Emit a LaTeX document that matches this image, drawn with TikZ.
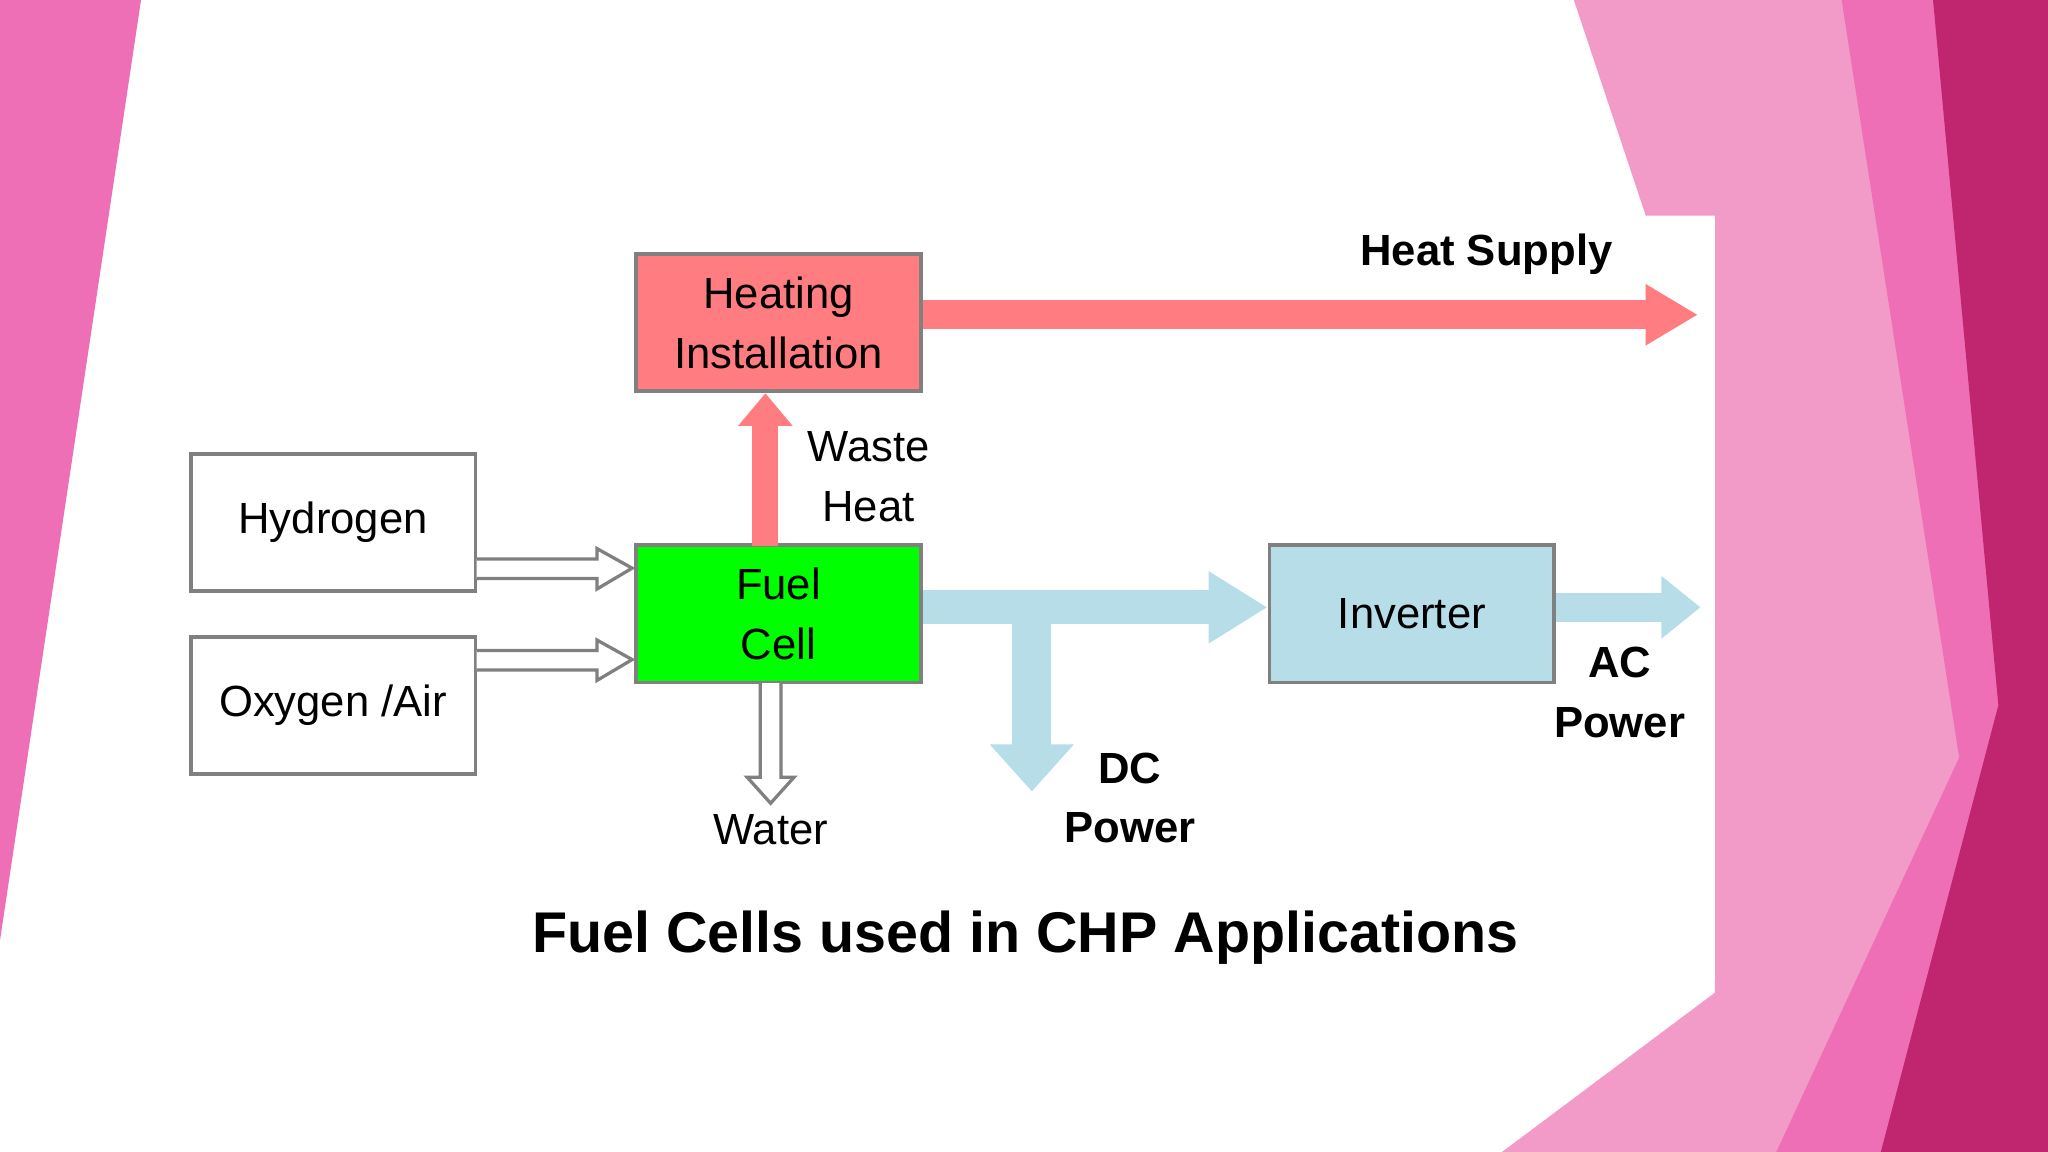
\documentclass[tikz,border=0pt]{standalone}
\usepackage{fontspec}
\setmainfont{Liberation Sans}
\usetikzlibrary{arrows.meta}
\definecolor{lpink}{HTML}{F29AC8}
\definecolor{mpink}{HTML}{EE6FB5}
\definecolor{dpink}{HTML}{C0256F}
\definecolor{heat}{HTML}{FF7C80}
\definecolor{dcb}{HTML}{B7DEE8}
\definecolor{bord}{HTML}{808080}
\begin{document}
\begin{tikzpicture}[x=0.01cm,y=-0.01cm,
  box/.style={draw=bord,line width=0.03cm,minimum width=2.18cm,minimum height=1.05cm,inner sep=0pt,align=center,font=\fontsize{9.5}{13}\selectfont},
  lbl/.style={align=center,font=\fontsize{9.5}{13}\selectfont},
  blbl/.style={align=center,font=\fontsize{9.5}{13}\selectfont\bfseries},
  hollow/.style={draw=bord,fill=white,line width=0.025cm}]
\useasboundingbox (0,0) rectangle (1568,882);
\fill[white] (0,0) rectangle (1568,882);
% background decoration
\fill[mpink] (0,0) -- (108,0) -- (0,720) -- cycle;
\fill[lpink] (1205,0) -- (1568,0) -- (1568,882) -- (1150,882) -- (1313,760) -- (1313,165) -- (1260,165) -- cycle;
\fill[mpink] (1410,0) -- (1568,0) -- (1568,882) -- (1360,882) -- (1500,580) -- cycle;
\fill[dpink] (1480,0) -- (1568,0) -- (1568,882) -- (1440,882) -- (1530,540) -- cycle;
\fill[white] (1150,165) rectangle (1313,750);
% boxes
\node[box,fill=heat] (heatb) at (596,247) {Heating\\Installation};
\node[box,fill=white] (h2) at (255,400) {Hydrogen};
\node[box,fill=white] (o2) at (255,540) {Oxygen /Air};
\node[box,fill=green] (fc) at (596,470) {Fuel\\Cell};
\node[box,fill=dcb] (inv) at (1081,470) {Inverter};
% heat supply
\coordinate (hs) at (1300,241);
\draw[heat,line width=0.22cm,-{Triangle[length=0.4cm,width=0.44cm]}] (heatb.east|-hs) -- (hs);
\node[blbl] (hst) at (1138,195) {Heat Supply};
% waste heat
\draw[heat,line width=0.2cm,-{Triangle[length=0.25cm,width=0.4cm]}] (586,418) -- (heatb.south-|586,0);
\node[lbl] (wh) at (665,365) {Waste\\Heat};
% hollow inputs
\draw[hollow] (365,428) -- (457,428) -- (457,420) -- (484,435) -- (457,451) -- (457,443) -- (365,443);
\draw[hollow] (365,498) -- (457,498) -- (457,490) -- (484,505) -- (457,521) -- (457,513) -- (365,513);
% water
\draw[hollow] (582,523) -- (582,595) -- (572,595) -- (590,615) -- (608,595) -- (598,595) -- (598,523);
\node[lbl] (wat) at (590,635) {Water};
% DC power
\coordinate (dcd) at (790,606);
\draw[dcb,line width=0.26cm,-{Triangle[length=0.45cm,width=0.52cm]}] (fc.east|-0,465) -- (inv.west|-0,465);
\draw[dcb,line width=0.3cm,-{Triangle[length=0.36cm,width=0.62cm]}] (790,460) -- (dcd);
\node[blbl] (dct) at (865,611) {DC\\Power};
% AC power
\coordinate (ac) at (1302,465);
\draw[dcb,line width=0.22cm,-{Triangle[length=0.3cm,width=0.46cm]}] (inv.east|-0,465) -- (ac);
\node[blbl] (act) at (1240,530) {AC\\Power};
% title
\node[font=\fontsize{12.5}{15}\selectfont\bfseries] (title) at (785,718) {Fuel Cells used in CHP Applications};
\end{tikzpicture}
\end{document}
